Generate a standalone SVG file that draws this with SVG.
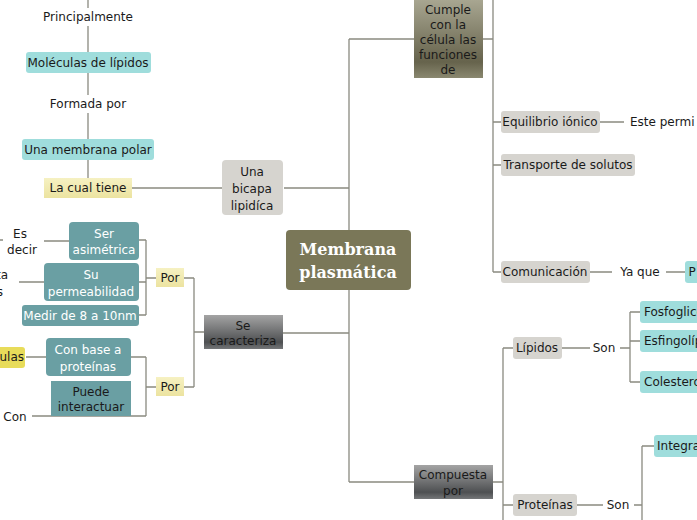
<svg xmlns="http://www.w3.org/2000/svg" width="697" height="520" viewBox="0 0 697 520">
<defs>
<linearGradient id="olive" x1="0" y1="0" x2="0" y2="1"><stop offset="0" stop-color="#aaa893"/><stop offset="0.8" stop-color="#66634c"/><stop offset="1" stop-color="#8a8870"/></linearGradient>
<linearGradient id="gray" x1="0" y1="0" x2="0" y2="1"><stop offset="0" stop-color="#a4a4a4"/><stop offset="0.8" stop-color="#4e5052"/><stop offset="1" stop-color="#747678"/></linearGradient>
<linearGradient id="yel" x1="0" y1="0" x2="0" y2="1"><stop offset="0" stop-color="#f6f1c2"/><stop offset="1" stop-color="#ece3a0"/></linearGradient>
</defs>
<style>
text{font-family:"DejaVu Sans",sans-serif;font-size:12px;fill:#1a1a1a;text-anchor:middle;dominant-baseline:central}
.w{fill:#fff}
.l{fill:none;stroke:#8a8a80;stroke-width:1.3}
.g{fill:#d6d4cf}
.c{fill:#9fdddc}
.t{fill:#6a9fa3}
.y{fill:url(#yel)}
</style>
<rect width="697" height="520" fill="#fff"/>
<g id="connectors" class="l">
<path d="M349 39V482M349 39H415M284 188H349M283 333H349M349 482H415"/>
<path d="M483 39H493M493 0V272M493 122H501M493 165H501M493 272H501M600 122H624M590 272H612M666 272H685"/>
<path d="M88 0V178M132 188H222"/>
<path d="M204 332H194M194 278V387M184 278H194M184 387H194M146 278H156M146 240V315M139 240H146M139 282H146M139 315H146M44 241H69M0 240H3M19 282H44"/>
<path d="M146 387H156M146 357V416M131 357H146M26 357H46M32 416H146"/>
<path d="M493 482H503M503 348V520M503 348H513M503 505H513M562 348H590M620 348H630M630 312V382M630 312H640M630 341H640M630 382H640M577 505H603M634 505H642M642 446V520M642 446H654"/>
</g>
<g id="central"><rect x="286" y="230" width="125" height="60" rx="4" fill="#7a7758"/><text x="348" y="249" class="w" style="font-family:'DejaVu Serif',serif;font-weight:bold;font-size:16px">Membrana</text><text x="348" y="272" class="w" style="font-family:'DejaVu Serif',serif;font-weight:bold;font-size:16px">plasmática</text></g>
<g id="cumple"><rect x="414" y="-2" width="69" height="80" fill="url(#olive)"/><text x="448" y="10">Cumple</text><text x="448" y="25">con la</text><text x="448" y="40">célula las</text><text x="448" y="55">funciones</text><text x="448" y="70">de</text></g>
<g id="equilibrio"><rect x="501" y="111" width="99" height="22" rx="3" class="g"/><text x="550" y="122">Equilibrio iónico</text></g>
<g id="este"><text x="630" y="122" style="text-anchor:start">Este permi</text></g>
<g id="transporte"><rect x="501" y="154" width="134" height="22" rx="3" class="g"/><text x="568" y="165">Transporte de solutos</text></g>
<g id="comunicacion"><rect x="501" y="261" width="89" height="22" rx="3" class="g"/><text x="545" y="272">Comunicación</text></g>
<g id="yaque"><text x="640" y="272">Ya que</text></g>
<g id="p"><rect x="685" y="261" width="30" height="22" rx="3" class="c"/><text x="692" y="272">P</text></g>
<g id="principalmente"><rect x="38" y="8" width="100" height="18" fill="#fff"/><text x="88" y="17">Principalmente</text></g>
<g id="moleculas"><rect x="26" y="52" width="125" height="21" rx="3" class="c"/><text x="88" y="63">Moléculas de lípidos</text></g>
<g id="formada"><rect x="45" y="95" width="86" height="18" fill="#fff"/><text x="88" y="104">Formada por</text></g>
<g id="polar"><rect x="22" y="139" width="132" height="21" rx="3" class="c"/><text x="88" y="150">Una membrana polar</text></g>
<g id="cual"><rect x="44" y="178" width="88" height="20" class="y"/><text x="88" y="188">La cual tiene</text></g>
<g id="bicapa"><rect x="222" y="160" width="61" height="55" rx="4" class="g"/><text x="252" y="172">Una</text><text x="252" y="189">bicapa</text><text x="252" y="206">lipidíca</text></g>
<g id="secaracteriza"><rect x="204" y="315" width="79" height="34" fill="url(#gray)"/><text x="243" y="326">Se</text><text x="243" y="341">caracteriza</text></g>
<g id="por1"><rect x="156" y="268" width="28" height="19" class="y"/><text x="170" y="278">Por</text></g>
<g id="por2"><rect x="156" y="377" width="28" height="19" class="y"/><text x="170" y="387">Por</text></g>
<g id="asimetrica"><rect x="69" y="222" width="70" height="38" rx="4" class="t"/><text x="104" y="234" class="w">Ser</text><text x="104" y="250" class="w">asimétrica</text></g>
<g id="esdecir"><text x="20" y="234">Es</text><text x="22" y="250">decir</text></g>
<g id="permeabilidad"><rect x="44" y="263" width="95" height="38" rx="4" class="t"/><text x="91" y="275" class="w">Su</text><text x="91" y="292" class="w">permeabilidad</text></g>
<g id="ta"><text x="8" y="275" style="text-anchor:end">ta</text><text x="3" y="292" style="text-anchor:end">s</text></g>
<g id="medir"><rect x="22" y="305" width="117" height="21" rx="3" class="t"/><text x="80" y="316" class="w">Medir de 8 a 10nm</text></g>
<g id="conbase"><rect x="46" y="338" width="85" height="38" rx="4" class="t"/><text x="88" y="350" class="w">Con base a</text><text x="88" y="367" class="w">proteínas</text></g>
<g id="ulas"><rect x="-10" y="347" width="35" height="21" rx="3" fill="#e8dc5a"/><text x="24" y="357" style="text-anchor:end">ulas</text></g>
<g id="puede"><rect x="51" y="381" width="80" height="35" class="t"/><text x="91" y="392">Puede</text><text x="91" y="407">interactuar</text></g>
<g id="con"><text x="15" y="417">Con</text></g>
<g id="compuesta"><rect x="414" y="465" width="79" height="34" fill="url(#gray)"/><text x="453" y="475">Compuesta</text><text x="453" y="491">por</text></g>
<g id="lipidos"><rect x="513" y="337" width="49" height="22" rx="3" class="g"/><text x="537" y="348">Lípidos</text></g>
<g id="son1"><text x="604" y="348">Son</text></g>
<g id="fosfo"><rect x="640" y="301" width="70" height="22" rx="3" class="c"/><text x="644" y="312" style="text-anchor:start">Fosfoglice</text></g>
<g id="esfingo"><rect x="640" y="330" width="70" height="22" rx="3" class="c"/><text x="644" y="341" style="text-anchor:start">Esfingolíp</text></g>
<g id="colesterol"><rect x="640" y="371" width="70" height="22" rx="3" class="c"/><text x="644" y="382" style="text-anchor:start">Colesterol</text></g>
<g id="proteinas"><rect x="513" y="494" width="64" height="22" rx="3" class="g"/><text x="545" y="505">Proteínas</text></g>
<g id="son2"><text x="618" y="505">Son</text></g>
<g id="integra"><rect x="654" y="435" width="60" height="22" rx="3" class="c"/><text x="657" y="446" style="text-anchor:start">Integra</text></g>
</svg>
